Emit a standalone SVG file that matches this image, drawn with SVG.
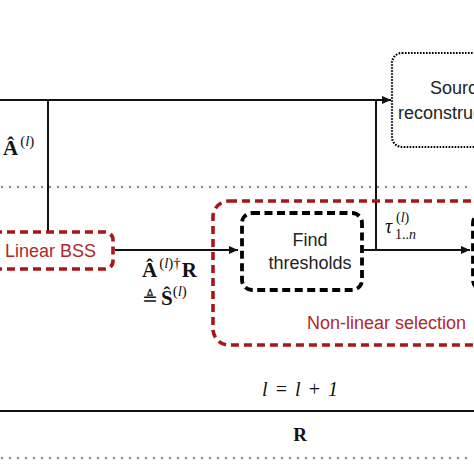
<svg xmlns="http://www.w3.org/2000/svg" width="474" height="474" viewBox="0 0 474 474">
<defs>
<style>
.sans{font-family:"Liberation Sans","Helvetica",Arial,sans-serif;font-size:18px;fill:#222}
.red{fill:#b0282a}
.math{font-family:"Liberation Serif","Times New Roman",serif;fill:#111}
.bold{font-weight:bold}
.it{font-style:italic}
.conn{stroke:#111;stroke-width:2;fill:none}
.grid{stroke:#888;stroke-width:2.4;stroke-linecap:round;stroke-dasharray:0 8;fill:none}
.reddash{stroke:#a8161a;stroke-width:3.6;stroke-dasharray:8 5;fill:none}
.blkdash{stroke:#000;stroke-width:3.8;stroke-dasharray:8 4.5;fill:none}
.dotted{stroke:#000;stroke-width:2.2;stroke-dasharray:1.6 1.4;fill:none}
</style>
<marker id="arr" viewBox="0 0 10 10" refX="10" refY="5" markerWidth="9" markerHeight="9" markerUnits="userSpaceOnUse" orient="auto">
<path d="M0,0.5 L10,5 L0,9.5 Z" fill="#111"/>
</marker>
</defs>
<rect width="474" height="474" fill="#fff"/>

<g id="separators">
<line class="grid" x1="2" y1="187" x2="474" y2="187"/>
<line class="grid" x1="2" y1="458" x2="474" y2="458"/>
</g>

<g id="connectors">
<line class="conn" x1="-5" y1="100" x2="391" y2="100" marker-end="url(#arr)"/>
<line class="conn" x1="48" y1="100" x2="48" y2="231"/>
<line class="conn" x1="376" y1="100" x2="376" y2="250"/>
<line class="conn" x1="115" y1="250" x2="238" y2="250" marker-end="url(#arr)"/>
<line class="conn" x1="364" y1="250" x2="470" y2="250" marker-end="url(#arr)"/>
<line class="conn" x1="-5" y1="411" x2="480" y2="411"/>
</g>

<g id="source-reconstruction">
<rect class="dotted" x="392" y="53" width="140" height="94" rx="10"/>
<text class="sans" x="430" y="94">Source</text>
<text class="sans" x="398" y="119">reconstruction</text>
</g>

<g id="linear-bss">
<rect class="reddash" x="-40" y="232" width="153" height="37" rx="8"/>
<text class="sans red" x="5" y="257">Linear BSS</text>
</g>

<g id="non-linear-selection">
<rect class="reddash" x="213" y="201" width="320" height="144" rx="16"/>
<text class="sans red" x="307" y="329">Non-linear selection</text>
</g>

<g id="find-thresholds">
<rect class="blkdash" x="242" y="213" width="120" height="77" rx="10"/>
<text class="sans" x="310" y="246" text-anchor="middle">Find</text>
<text class="sans" x="310" y="269" text-anchor="middle">thresholds</text>
</g>

<g id="next-box">
<rect class="blkdash" x="473" y="213" width="60" height="77" rx="10"/>
</g>

<g id="labels">
<text class="math" x="3" y="155" font-size="21"><tspan class="bold">Â</tspan><tspan font-size="15" dy="-9" dx="2">(</tspan><tspan font-size="15" class="it">l</tspan><tspan font-size="15">)</tspan></text>
<text class="math" x="142" y="277" font-size="21"><tspan class="bold">Â</tspan><tspan font-size="15" dy="-9" dx="2">(</tspan><tspan font-size="15" class="it">l</tspan><tspan font-size="15">)†</tspan><tspan class="bold" dy="9" dx="1">R</tspan></text>
<text class="math" x="142" y="305" font-size="19"><tspan>≜</tspan><tspan class="bold" font-size="21" dx="3">Ŝ</tspan><tspan font-size="15" dy="-9">(</tspan><tspan font-size="15" class="it">l</tspan><tspan font-size="15">)</tspan></text>
<text class="math it" x="385" y="233" font-size="20">τ</text>
<text class="math" x="396" y="222" font-size="14">(<tspan class="it">l</tspan>)</text>
<text class="math" x="395" y="239" font-size="14">1..<tspan class="it">n</tspan></text>
<text class="math it" x="300" y="396" font-size="20" text-anchor="middle" word-spacing="2">l = l + 1</text>
<text class="math bold" x="300" y="441" font-size="19" text-anchor="middle">R</text>
</g>
</svg>
